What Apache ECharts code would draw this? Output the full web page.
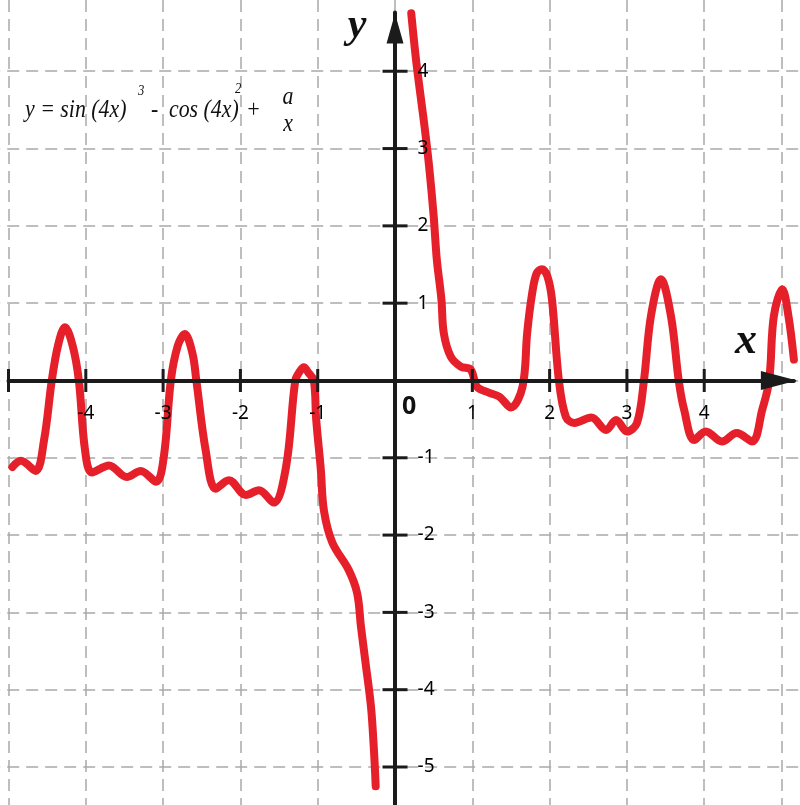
<!DOCTYPE html>
<html>
<head>
<meta charset="utf-8">
<script src="https://cdn.jsdelivr.net/npm/echarts@6/dist/echarts.min.js"></script>
<style>
html,body{margin:0;padding:0;background:#fff;}
#chart{width:800px;height:805px;}
</style>
</head>
<body>
<div id="chart"></div>
<script>
// Curve branch left of the y axis (x < 0)
var xLeft = [-4.95,-4.84,-4.65,-4.54,-4.44,-4.36,-4.27,-4.17,-4.09,-4.01,-3.92,-3.70,-3.47,-3.29,-3.09,-2.99,-2.90,-2.81,-2.72,-2.62,-2.57,-2.45,-2.32,-2.15,-1.93,-1.76,-1.57,-1.41,-1.29,-1.23,-1.18,-1.12,-1.05,-1.02,-0.96,-0.92,-0.81,-0.60,-0.49,-0.44,-0.38,-0.31,-0.27,-0.25];
var yLeft = [-1.12,-1.04,-1.17,-0.77,0,0.45,0.69,0.45,0,-0.9,-1.19,-1.10,-1.25,-1.17,-1.31,-0.98,0,0.45,0.60,0.35,0,-0.9,-1.40,-1.29,-1.48,-1.42,-1.58,-1.12,0,0.12,0.17,0.10,0,-0.5,-1.15,-1.68,-2.10,-2.45,-2.75,-3.19,-3.66,-4.23,-4.83,-5.25];
// Curve branch right of the y axis (x > 0)
var xRight = [0.21,0.28,0.38,0.44,0.50,0.54,0.60,0.63,0.72,0.85,0.98,1.06,1.22,1.35,1.50,1.65,1.71,1.77,1.83,1.90,1.97,2.03,2.12,2.21,2.32,2.54,2.73,2.86,3.00,3.13,3.22,3.31,3.44,3.57,3.67,3.74,3.87,4.02,4.23,4.42,4.62,4.75,4.84,4.90,5.01,5.09,5.16];
var yRight = [4.75,4.08,3.30,2.78,2.13,1.57,1.05,0.62,0.31,0.18,0.14,-0.08,-0.16,-0.21,-0.35,-0.08,0.62,1.10,1.38,1.44,1.35,1.05,0,-0.47,-0.55,-0.48,-0.64,-0.51,-0.66,-0.55,0,0.83,1.31,0.83,0,-0.38,-0.77,-0.66,-0.79,-0.68,-0.79,-0.38,0,0.83,1.18,0.83,0.27];
// Tick marks and tick labels
var xTickValues = [-5,-4,-3,-2,-1,1,2,3,4];
var yTickValues = [-5,-4,-3,-2,-1,1,2,3,4];
var xLabelValues = [-4,-3,-2,-1,1,2,3,4];
var yLabelValues = [-5,-4,-3,-2,-1,1,2,3,4];

function pairs(xs, ys){ return xs.map(function(x,i){ return [x, ys[i]]; }); }

var chart = echarts.init(document.getElementById('chart'), null, {renderer:'canvas'});
var AX = '#1b1b1b';
var RED = '#e5202a';
var GRIDC = '#a9a9a9';
var FORM = 'italic 26px "Liberation Serif"';
var SUP = 'italic 15px "Liberation Serif"';

function ftext(x, y, t, font, align){
  return {type:'text', x:x, y:y, z:10, scaleX:0.84,
    style:{text:t, font:font, fill:'#111', align:align || 'left', verticalAlign:'middle'}};
}

var tickLabel = {show:true, fontFamily:'Noto Sans', fontSize:19, color:'#000', opacity:1, textBorderWidth:0};

var option = {
  backgroundColor:'#ffffff',
  animation:false,
  grid:[
    {left:8.5, right:6.1, top:12.5, bottom:-39.3, containLabel:false, outerBoundsMode:'none', z:3},
    {left:-68.8, right:0, top:0, bottom:-39.3, containLabel:false, outerBoundsMode:'none', z:0}
  ],
  xAxis:[
    {type:'value', gridIndex:0, min:-5, max:5.16, interval:1, z:3,
      axisLine:{onZero:true, lineStyle:{color:AX, width:4}, symbol:['none','triangle'], symbolSize:[19,36], symbolOffset:[0,-15]},
      axisTick:{show:false}, splitLine:{show:false}, axisLabel:{show:false}
    },
    {type:'value', gridIndex:1, min:-6, max:5.24, interval:1, z:0,
      axisLine:{show:false}, axisTick:{show:false}, axisLabel:{show:false},
      splitLine:{show:true, showMaxLine:false, lineStyle:{color:GRIDC, width:1.5, type:[12,7]}}
    }
  ],
  yAxis:[
    {type:'value', gridIndex:0, min:-6, max:4.76, interval:1, z:3,
      axisLine:{onZero:true, lineStyle:{color:AX, width:4}, symbol:['none','triangle'], symbolSize:[17,30], symbolOffset:[0,-16]},
      axisTick:{show:false}, splitLine:{show:false}, axisLabel:{show:false}
    },
    {type:'value', gridIndex:1, min:-6, max:4.92, interval:1, z:0,
      axisLine:{show:false}, axisTick:{show:false}, axisLabel:{show:false},
      splitLine:{show:true, showMaxLine:false, lineStyle:{color:GRIDC, width:1.5, type:[12,7]}}
    }
  ],
  series:[
    {type:'line', xAxisIndex:0, yAxisIndex:0, data:pairs(xLeft,yLeft), smooth:0.35, showSymbol:false, clip:false, z:2,
      lineStyle:{color:RED, width:8, cap:'round', join:'round'}},
    {type:'line', xAxisIndex:0, yAxisIndex:0, data:pairs(xRight,yRight), smooth:0.35, showSymbol:false, clip:false, z:2,
      lineStyle:{color:RED, width:8, cap:'round', join:'round'}},
    {type:'scatter', xAxisIndex:0, yAxisIndex:0, z:5, silent:true,
      data:xTickValues.map(function(v){ return [v,0]; }),
      symbol:'rect', symbolSize:[3,23], itemStyle:{color:AX, opacity:1},
      label:Object.assign({position:'bottom', distance:12,
        formatter:function(p){ var v=p.value[0]; return xLabelValues.indexOf(v) >= 0 ? String(v) : ''; }}, tickLabel)},
    {type:'scatter', xAxisIndex:0, yAxisIndex:0, z:5, silent:true,
      data:yTickValues.map(function(v){ return [0,v]; }),
      symbol:'rect', symbolSize:[25,3], itemStyle:{color:AX, opacity:1},
      label:Object.assign({position:'right', distance:10,
        formatter:function(p){ var v=p.value[1]; return yLabelValues.indexOf(v) >= 0 ? String(v) : ''; }}, tickLabel)}
  ],
  graphic:[
    {type:'text', x:402, y:407, z:10, style:{text:'0', font:'bold 25px "Open Sans"', fill:'#111', align:'left', verticalAlign:'middle'}},
    {type:'text', x:357, y:26, z:10, style:{text:'y', font:'italic bold 42px "Liberation Serif"', fill:'#111', align:'center', verticalAlign:'middle'}},
    {type:'text', x:746, y:342, z:10, style:{text:'x', font:'italic bold 44px "Liberation Serif"', fill:'#111', align:'center', verticalAlign:'middle'}},
    ftext(25, 110, 'y = sin (4x)', FORM),
    ftext(138, 91, '3', SUP),
    ftext(151, 110, '-', FORM),
    ftext(169, 110, 'cos (4x)', FORM),
    ftext(235, 89, '2', SUP),
    ftext(246, 110, '+', FORM),
    ftext(288, 97, 'a', FORM, 'center'),
    ftext(288, 124, 'x', FORM, 'center')
  ]
};
chart.setOption(option);
</script>
</body>
</html>
